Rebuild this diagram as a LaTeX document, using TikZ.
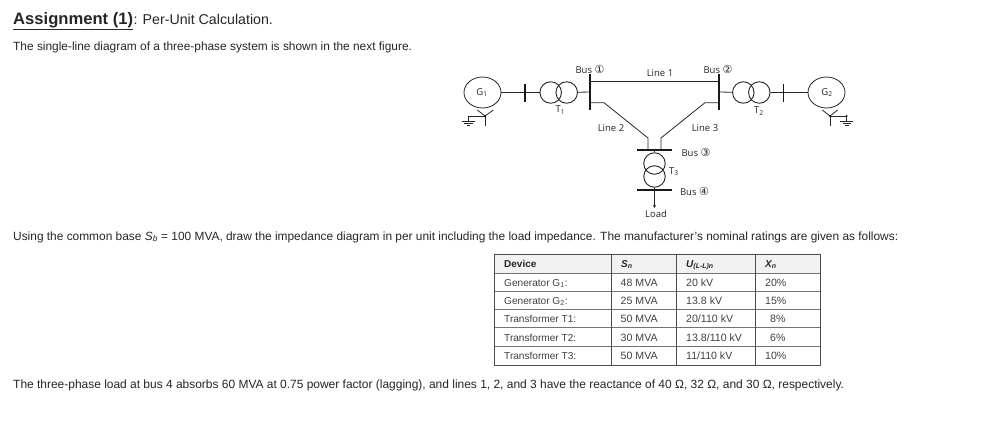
\documentclass[tikz,border=0pt]{standalone}
\usepackage{fontspec}
\setmainfont{Liberation Sans}
\newfontfamily\diagfont{Open Sans}
\newfontfamily\symfont{DejaVu Sans}
\usepackage{tikz}
\usetikzlibrary{shapes.geometric,arrows.meta,positioning}

\newcommand{\busno}[1]{{\symfont\fontsize{11}{12}\selectfont #1}}

\begin{document}
\begin{tikzpicture}[
        x=1pt,y=-1pt,
        txt/.style={anchor=base west, inner sep=0pt, font=\fontsize{11.9}{14}\selectfont, text=black!85},
        diag/.style={inner sep=0pt, font=\diagfont\fontsize{9.5}{11}\selectfont, text=black!85},
        cell/.style={anchor=base west, inner sep=0pt, font=\fontsize{10.1}{12}\selectfont, text=black!75},
        num/.style={anchor=base west, inner sep=0pt, font=\fontsize{10.6}{12}\selectfont, text=black!75},
        head/.style={anchor=base west, inner sep=0pt, font=\bfseries\fontsize{10}{12}\selectfont, text=black!85},
        gen/.style={ellipse, draw=black!85, line width=0.8pt, minimum width=37pt, minimum height=31pt, inner sep=0pt},
        coil/.style={circle, draw=black!85, line width=0.9pt, minimum size=21.5pt, inner sep=0pt},
        vbus/.style={fill=black!90, inner sep=0pt, minimum width=1.6pt, minimum height=36pt},
        hbus/.style={fill=black!90, inner sep=0pt, minimum width=35pt, minimum height=1.3pt},
        tick/.style={fill=black!90, inner sep=0pt, minimum width=1.3pt, minimum height=18pt},
        wire/.style={draw=black!85, line width=0.8pt},
        grid/.style={draw=black!70, line width=0.6pt}
    ]
        \useasboundingbox (0,0) rectangle (986,447);
        \fill[white] (0,0) rectangle (986,447);

        % Text above the figure
        \node[txt, font=\bfseries\fontsize{16.6}{20}\selectfont] (title) at (13,24) {\underline{Assignment (1)}};
        \node[txt, font=\fontsize{14.2}{18}\selectfont] (subtitle) at (title.base east) {: Per-Unit Calculation.};
        \node[txt] (intro) at (13,50) {The single-line diagram of a three-phase system is shown in the next figure.};

        % Generators
        \node[gen] (g1) at (482.5,92.5) {};
        \node[diag] (g1lab) at (482,92.5) {G\textsubscript{1}};
        \node[gen] (g2) at (826.5,92.5) {};
        \node[diag] (g2lab) at (827,92.5) {G\textsubscript{2}};

        % Breaker ticks
        \node[tick] (tick1) at (525,92.5) {};
        \node[tick] (tick2) at (783.5,92.5) {};

        % Transformers
        \node[coil] (t1a) at (550.7,92.5) {};
        \node[coil] (t1b) at (566.7,92.5) {};
        \node[coil] (t2a) at (743.3,92.5) {};
        \node[coil] (t2b) at (759.3,92.5) {};
        \node[coil] (t3a) at (654.5,163.5) {};
        \node[coil] (t3b) at (654.5,176.5) {};

        % Buses
        \node[vbus] (bus1) at (590,92) {};
        \node[vbus] (bus2) at (719,92) {};
        \node[hbus] (bus3) at (654.5,150) {};
        \node[hbus] (bus4) at (654.5,190) {};

        % Labels
        \node[diag] (bus1lab) at (590,69) {Bus \busno{①}};
        \node[diag] (bus2lab) at (718,69) {Bus \busno{②}};
        \node[diag] (bus3lab) at (696,152) {Bus \busno{③}};
        \node[diag] (bus4lab) at (694.5,191) {Bus \busno{④}};
        \node[diag] (line1lab) at (660,73.5) {Line 1};
        \node[diag] (line2lab) at (611,128) {Line 2};
        \node[diag] (line3lab) at (705,128) {Line 3};
        \node[diag] (t1lab) at (560.5,110) {T\textsubscript{1}};
        \node[diag] (t2lab) at (759,111) {T\textsubscript{2}};
        \node[diag] (t3lab) at (674,171.5) {T\textsubscript{3}};
        \node[diag] (loadlab) at (656,213.5) {Load};

        % Connections
        \draw[wire] (g1) -- (tick1);
        \draw[wire] (tick1) -- (t1a);
        \draw[wire] (t1b) -- (bus1);
        \draw[wire] (bus2) -- (t2a);
        \draw[wire] (t2b) -- (tick2);
        \draw[wire] (tick2) -- (g2);
        \draw[wire] (bus3) -- (t3a);
        \draw[wire] (t3b) -- (bus4);

        % Lines between the buses
        \coordinate (line1a) at (590,81);
        \coordinate (line1b) at (719,81);
        \coordinate (line2a) at (590,102.7);
        \coordinate (line2b) at (604,102.7);
        \coordinate (line2c) at (648,138);
        \coordinate (line2d) at (648,150);
        \coordinate (line3a) at (719,102.7);
        \coordinate (line3b) at (705,102.7);
        \coordinate (line3c) at (661,138);
        \coordinate (line3d) at (661,150);
        \draw[wire] (line1a) -- (line1b);
        \draw[wire] (line2a) -- (line2b) -- (line2c) -- (line2d);
        \draw[wire] (line3a) -- (line3b) -- (line3c) -- (line3d);

        % Load arrow
        \coordinate (loadtip) at (654.5,208);
        \draw[wire,-{Stealth[length=3pt,width=3pt]}] (bus4) -- (loadtip);

        % Star points and grounds
        \coordinate (star1) at (485,116);
        \coordinate (star1a) at (477.3,110);
        \coordinate (star1b) at (493.3,110);
        \coordinate (star1c) at (485,126);
        \coordinate (gnd1a) at (468.3,116);
        \coordinate (gnd1b) at (468.3,121.7);
        \draw[wire] (star1a) -- (star1) -- (star1b);
        \draw[wire] (star1) -- (star1c);
        \draw[wire] (star1) -- (gnd1a) -- (gnd1b);
        \fill (star1) circle (1pt);
        \coordinate (star2) at (830,116);
        \coordinate (star2a) at (822.3,110);
        \coordinate (star2b) at (837.7,110);
        \coordinate (star2c) at (830,126);
        \coordinate (gnd2a) at (846.7,116);
        \coordinate (gnd2b) at (846.7,121.7);
        \draw[wire] (star2a) -- (star2) -- (star2b);
        \draw[wire] (star2) -- (star2c);
        \draw[wire] (star2) -- (gnd2a) -- (gnd2b);
        \fill (star2) circle (1pt);
        \fill (gnd2a) circle (1pt);
        \foreach \g in {gnd1b,gnd2b}{
            \draw[wire] ([xshift=-6.7pt]\g) -- ([xshift=6.7pt]\g);
            \draw[wire] ([xshift=-4.2pt,yshift=-1.8pt]\g) -- ([xshift=4.2pt,yshift=-1.8pt]\g);
            \draw[wire] ([xshift=-1.8pt,yshift=-3.6pt]\g) -- ([xshift=1.8pt,yshift=-3.6pt]\g);
        }

        % Text under the figure
        \node[txt] (base) at (13,240) {Using the common base \textit{S\textsubscript{b}} = 100 MVA, draw the impedance diagram in per unit including the load impedance. The manufacturer’s nominal ratings are given as follows:};

        % Table
        \fill[black!5] (494,254) rectangle (820.7,273.3);
        \foreach \y in {273.3,291.7,309.3,327.7,346}
            \draw[black!55, line width=0.7pt] (494,\y) -- (820.7,\y);
        \foreach \x in {611,676.7,755}
            \draw[grid] (\x,254) -- (\x,365);
        \draw[grid, line width=0.8pt] (494,254) rectangle (820.7,365);

        \node[head] (hdevice) at (504,267) {Device};
        \node[head] (hsn) at (621,267) {\textit{S\textsubscript{n}}};
        \node[head] (hun) at (686,267) {\textit{U\textsubscript{(L-L)n}}};
        \node[head] (hxn) at (765,267) {\textit{X\textsubscript{n}}};
        \foreach \y/\dev/\sn/\un/\xn/\xpos in {
            286/Generator G\textsubscript{1}:/48 MVA/20 kV/20\%/765,
            304/Generator G\textsubscript{2}:/25 MVA/13.8 kV/15\%/765,
            322/Transformer T1:/50 MVA/20\slash 110 kV/8\%/770,
            341/Transformer T2:/30 MVA/13.8\slash 110 kV/6\%/770,
            359/Transformer T3:/50 MVA/11\slash 110 kV/10\%/765}{
            \node[cell] at (504,\y) {\dev};
            \node[num] at (620.5,\y) {\sn};
            \node[num] at (686,\y) {\un};
            \node[num] at (\xpos,\y) {\xn};
        }

        % Last line
        \node[txt, font=\fontsize{11.96}{14}\selectfont] (closing) at (13,388) {The three-phase load at bus 4 absorbs 60 MVA at 0.75 power factor (lagging), and lines 1, 2, and 3 have the reactance of 40 Ω, 32 Ω, and 30 Ω, respectively.};
    \end{tikzpicture}
\end{document}
